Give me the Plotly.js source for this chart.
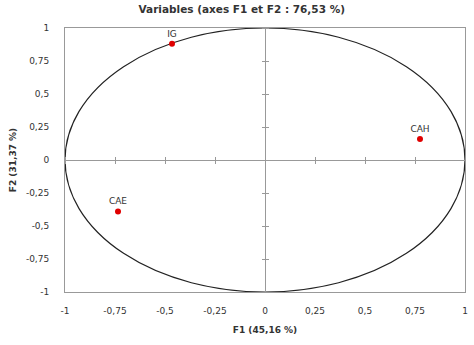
<!DOCTYPE html>
<html><head><meta charset="utf-8">
<script src="https://cdn.plot.ly/plotly-3.0.1.min.js"></script>
<style>html,body{margin:0;padding:0;background:#fff}#c{width:474px;height:345px}</style>
</head><body><div id="c"></div>
<script>
const labels = ["IG", "CAH", "CAE"];
const f1 = [-0.465, 0.775, -0.735];
const f2 = [0.88, 0.16, -0.39];
const tickVals = [-1, -0.75, -0.5, -0.25, 0, 0.25, 0.5, 0.75, 1];
const tickText = ["-1", "-0,75", "-0,5", "-0,25", "0", "0,25", "0,5", "0,75", "1"];

const font = {family: "DejaVu Sans", size: 9, color: "#333"};
const data = [{
  x: f1, y: f2, text: labels, mode: "markers+text", type: "scatter",
  textposition: "top center",
  marker: {color: "#e00000", size: 6},
  textfont: {family: "DejaVu Sans", size: 9, color: "#333"},
  hoverinfo: "none", cliponaxis: false
}];
const gray = "#999";
const layout = {
  width: 474, height: 345,
  margin: {l: 65, r: 9, t: 28, b: 53},
  paper_bgcolor: "#fff", plot_bgcolor: "#fff",
  font: font, showlegend: false,
  title: {text: "<b>Variables (axes F1 et F2 : 76,53 %)</b>", x: 0.51, xanchor: "center", y: 0.985, yanchor: "top", font: {family: "DejaVu Sans", size: 10.5, color: "#333"}},
  xaxis: {range: [-1, 1], tickvals: tickVals, ticktext: tickText, showgrid: false, zeroline: false,
    showline: true, mirror: true, linecolor: gray, linewidth: 1, ticks: "", ticklabelstandoff: 10,
    title: {text: "<b>F1 (45,16 %)</b>", font: {family: "DejaVu Sans", size: 9, color: "#333"}, standoff: 11}, fixedrange: true},
  yaxis: {range: [-1, 1], tickvals: tickVals, ticktext: tickText, showgrid: false, zeroline: false,
    showline: true, mirror: true, linecolor: gray, linewidth: 1, ticks: "", ticklabelstandoff: 13,
    title: {text: "<b>F2 (31,37 %)</b>", font: {family: "DejaVu Sans", size: 9, color: "#333"}, standoff: 7}, fixedrange: true},
  xaxis2: {overlaying: "x", matches: "x", anchor: "free", position: 0.5, side: "bottom", range: [-1, 1], tickvals: tickVals,
    showticklabels: false, ticks: "outside", ticklen: 3, tickcolor: gray, showline: true, linecolor: gray, showgrid: false, zeroline: false},
  xaxis3: {overlaying: "x", matches: "x", anchor: "free", position: 0.5, side: "top", range: [-1, 1], tickvals: tickVals,
    showticklabels: false, ticks: "outside", ticklen: 3, tickcolor: gray, showline: false, showgrid: false, zeroline: false},
  yaxis2: {overlaying: "y", matches: "y", anchor: "free", position: 0.5, side: "left", range: [-1, 1], tickvals: tickVals,
    showticklabels: false, ticks: "outside", ticklen: 3, tickcolor: gray, showline: true, linecolor: gray, showgrid: false, zeroline: false},
  yaxis3: {overlaying: "y", matches: "y", anchor: "free", position: 0.5, side: "right", range: [-1, 1], tickvals: tickVals,
    showticklabels: false, ticks: "outside", ticklen: 3, tickcolor: gray, showline: false, showgrid: false, zeroline: false},
  shapes: [{type: "circle", xref: "x", yref: "y", x0: -1, x1: 1, y0: -1, y1: 1, line: {color: "#222", width: 1.2}, layer: "below"}]
};
const helpers = [
  {x: [0], y: [0], xaxis: "x2", yaxis: "y", mode: "markers", marker: {opacity: 0}, hoverinfo: "none"},
  {x: [0], y: [0], xaxis: "x3", yaxis: "y", mode: "markers", marker: {opacity: 0}, hoverinfo: "none"},
  {x: [0], y: [0], xaxis: "x", yaxis: "y2", mode: "markers", marker: {opacity: 0}, hoverinfo: "none"},
  {x: [0], y: [0], xaxis: "x", yaxis: "y3", mode: "markers", marker: {opacity: 0}, hoverinfo: "none"}
];
Plotly.newPlot("c", helpers.concat(data), layout, {displayModeBar: false, staticPlot: true});
</script></body></html>
